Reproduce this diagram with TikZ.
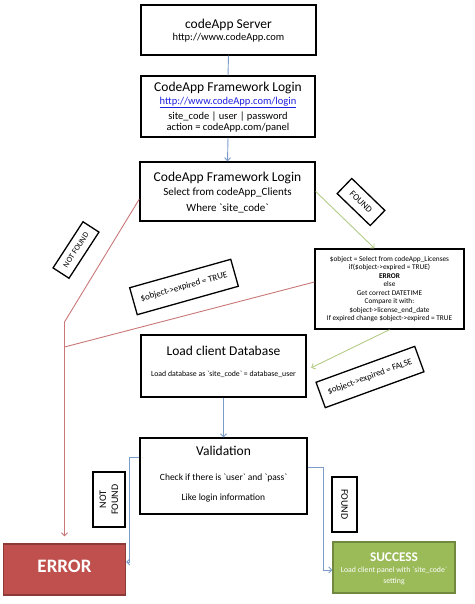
\documentclass[tikz,border=0pt]{standalone}
\usepackage{fontspec}
\setmainfont{Carlito}
\usetikzlibrary{arrows.meta,calc}
\definecolor{bline}{HTML}{7B9BCB}
\definecolor{rline}{HTML}{C97777}
\definecolor{gline}{HTML}{B3CB85}
\definecolor{errfill}{HTML}{C0504D}
\definecolor{errdraw}{HTML}{8C3A38}
\definecolor{sucfill}{HTML}{9BBB59}
\definecolor{sucdraw}{HTML}{71893F}
\definecolor{linkblue}{HTML}{1F1FE0}
\newcommand{\fsz}[1]{\fontsize{#1}{1.2\dimexpr #1pt\relax}\selectfont}
\begin{document}
\begin{tikzpicture}[x=1pt,y=-1pt,
  box/.style={draw=black, line width=1.3pt, inner sep=0pt, fill=white},
  ttl/.style={inner sep=0pt, font=\fsz{13.5}},
  sub/.style={inner sep=0pt, font=\fsz{10.5}},
  small/.style={inner sep=0pt, font=\fsz{7.8}},
  mid/.style={inner sep=0pt, font=\fsz{9.5}},
  lbl/.style={draw=black, line width=1.3pt, fill=white, inner sep=0pt},
  tip/.style={-{Straight Barb[length=3pt,width=6pt]}},
  bl/.style={draw=bline, line width=0.9pt},
  rd/.style={draw=rline, line width=0.9pt},
  gr/.style={draw=gline, line width=0.9pt}]
\useasboundingbox (0,0) rectangle (474,604);

% boxes
\node[box, minimum width=175pt, minimum height=50pt] (b1) at (228.5,30) {};
\node[ttl] (b1t) at (228.5,25) {codeApp Server};
\node[sub] (b1s) at (228.5,38) {http://www.codeApp.com};

\node[box, minimum width=174pt, minimum height=61pt] (b2) at (228,106.5) {};
\node[ttl] (b2t) at (228,88.3) {CodeApp Framework Login};
\node[sub] (b2l) at (228,102.7) {\textcolor{linkblue}{\underline{http://www.codeApp.com/login}}};
\node[sub] (b2s) at (228,116.3) {site\_code | user | password};
\node[sub] (b2a) at (228,127.5) {action = codeApp.com/panel};

\node[box, minimum width=175pt, minimum height=59pt] (b3) at (227.5,191.5) {};
\node[ttl] (b3t) at (227.5,178) {CodeApp Framework Login};
\node[sub, font=\fsz{11}] (b3s) at (227.5,192.5) {Select from codeApp\_Clients};
\node[sub, font=\fsz{11}] (b3w) at (227.5,208.5) {Where \textasciigrave site\_code\textasciigrave};

\node[box, minimum width=149pt, minimum height=80pt, align=center,
      font=\fontsize{7.3}{8.5}\selectfont] (b4) at (389.5,289)
 {\$object = Select from codeApp\_Licenses\\
  if(\$object->expired = TRUE)\\
  \textbf{ERROR}\\
  else\\
  Get correct DATETIME\\
  Compare it with:\\
  \$object->license\_end\_date\\
  If expired change \$object->expired = TRUE};

\node[box, minimum width=165pt, minimum height=62pt] (b5) at (223.5,366) {};
\node[ttl] (b5t) at (223.5,351) {Load client Database};
\node[small] (b5s) at (223.5,374) {Load database as \textasciigrave site\_code\textasciigrave{} = database\_user};

\node[box, minimum width=167pt, minimum height=76pt] (b6) at (223.5,476) {};
\node[ttl] (b6t) at (223.5,451.3) {Validation};
\node[mid] (b6c) at (223.5,478) {Check if there is \textasciigrave user\textasciigrave{} and \textasciigrave pass\textasciigrave};
\node[mid] (b6l) at (223.5,497.8) {Like login information};

\node[draw=errdraw, fill=errfill, line width=1.3pt, minimum width=122pt, minimum height=51pt,
      text depth=7pt, text=white, font=\bfseries\fsz{19}] (err) at (64.5,569.5) {ERROR};

\node[draw=sucdraw, fill=sucfill, line width=1.3pt, minimum width=122pt, minimum height=51pt] (suc) at (394,567.5) {};
\node[inner sep=0pt, text=white, font=\bfseries\fsz{13.3}] (suct) at (394,557.5) {SUCCESS};
\node[small, text=white] (sucs) at (394,570.7) {Load client panel with \textasciigrave site\_code\textasciigrave};
\node[small, text=white] (sucs2) at (394,581.7) {setting};

% connectors
\draw[bl] (b1.south) -- (b2.north);
\draw[bl, tip] (b2.south) -- (b3.north);
\draw[gr, tip] (b3.east) -- ($(b4.north west)!0.4!(b4.north east)$);
\coordinate (rj) at (64.5,322);
\coordinate (rj2) at (64.5,347);
\draw[rd] ([yshift=-7.5pt]b3.west) -- (rj);
\draw[rd, tip, shorten >=7pt] (rj) -- (err.north);
\draw[rd] ([yshift=7pt]b4.west) -- (rj2);
\draw[gr, tip, shorten >=5pt] (b4.south) -- ([yshift=-4pt]b5.east);
\draw[bl, tip] (b5.south) -- (b6.north);
\draw[bl, tip] ([yshift=19pt]b6.west) -- ++(-10,0) |- ([yshift=7.5pt]err.east);
\draw[bl, tip] ([yshift=9pt]b6.east) -- ++(16,0) |- ([yshift=-2.5pt]suc.west);

% labels
\node[lbl, rotate=-44, minimum width=46pt, minimum height=21pt, font=\fsz{9}] (fA) at (361,202) {FOUND};
\node[lbl, rotate=57, minimum width=55pt, minimum height=19pt, font=\fsz{8}] (nfA) at (76,250) {NOT FOUND};
\node[lbl, rotate=15.7, minimum width=105pt, minimum height=28pt, font=\fsz{9}] (tl) at (184,287) {\$object->expired = TRUE};
\node[lbl, rotate=20, minimum width=105pt, minimum height=27pt, font=\fsz{8.8}] (fl) at (370,377) {\$object->expired = FALSE};
\node[lbl, rotate=90, minimum width=55pt, minimum height=32pt, align=center, font=\fontsize{10}{12}\selectfont] (nfV) at (109,499.5) {NOT\\FOUND};
\node[lbl, rotate=-90, minimum width=55pt, minimum height=25pt, font=\fsz{10}] (fV) at (344.5,504.5) {FOUND};
\end{tikzpicture}
\end{document}
